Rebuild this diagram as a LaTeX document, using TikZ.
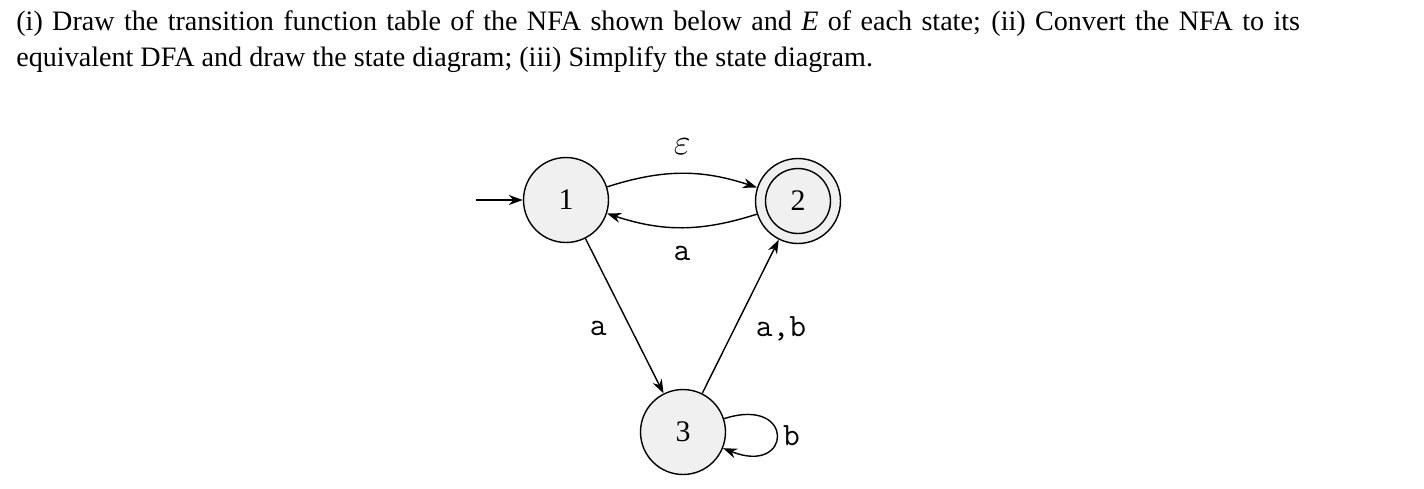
\documentclass[tikz,border=0pt]{standalone}
\usepackage{fontspec}
\setmainfont{Liberation Serif}
\usetikzlibrary{arrows.meta,automata}
\begin{document}
\begin{tikzpicture}[x=0.02cm,y=-0.02cm,
  st/.style={circle,draw,fill=black!6,minimum size=1.7cm,inner sep=0pt,font=\fontsize{17}{17}\selectfont},
  lab/.style={font=\fontsize{18.5}{18.5}\ttfamily},
  >={Stealth[length=0.28cm,width=0.2cm]},
  every edge/.style={draw,thick,->}]
\useasboundingbox (0,0) rectangle (1424,488);
\node[anchor=base west,inner sep=0pt] (t1) at (16,30) {\fontsize{16}{20}\selectfont\makebox[25.68cm][s]{(i) Draw the transition function table of the NFA shown below and \textit{E} of each state; (ii) Convert the NFA to its}};
\node[anchor=base west,inner sep=0pt] (t2) at (16,66) {\fontsize{16}{20}\selectfont equivalent DFA and draw the state diagram; (iii) Simplify the state diagram.};
\node[st,thick] (s1) at (566,200) {1};
\node[circle,draw,thick,fill=black!6,minimum size=1.7cm] (s2) at (798,201) {};
\node[circle,draw,thick,fill=black!6,minimum size=1.3cm,inner sep=0pt,font=\fontsize{17}{17}\selectfont] (s2i) at (798,201) {2};
\node[st,thick] (s3) at (683,432) {3};
\coordinate (init) at (476,200);
\draw[thick,->] (init) -- (s1);
\draw (s1) edge[bend left=18] node[above=0.25cm] (le) {\fontsize{20}{20}\selectfont$\varepsilon$} (s2);
\draw (s2) edge[bend left=18] node[below=0.25cm,lab] (la) {a} (s1);
\draw (s1) edge node[pos=0.58,left=0.35cm,lab] (la2) {a} (s3);
\draw (s3) edge node[pos=0.42,right=0.3cm,lab] (lab2) {a,b} (s2);
\draw (s3) edge[out=18,in=-22,looseness=6.5] node[right,lab] (lb) {b} (s3);
\end{tikzpicture}
\end{document}
